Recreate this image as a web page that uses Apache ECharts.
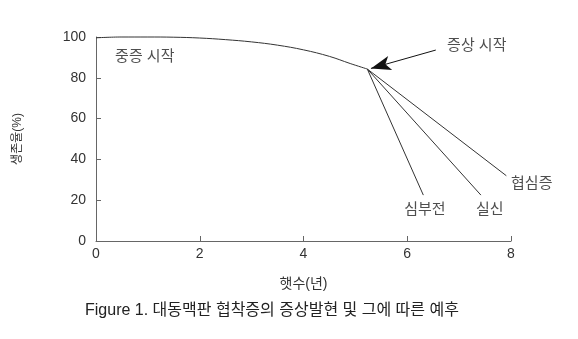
<!DOCTYPE html>
<html><head><meta charset="utf-8">
<script src="https://cdn.jsdelivr.net/npm/echarts@6/dist/echarts.min.js"></script>
<style>html,body{margin:0;padding:0;background:#fff}#c{width:578px;height:339px}</style>
</head><body><div id="c"></div>
<script>
// survival curve before symptom onset (years, survival %)
const curveX = [0, 0.5, 1, 1.5, 2, 2.5, 3, 3.5, 4, 4.5, 4.9, 5.23];
const curveY = [99.6, 100, 100, 99.9, 99.5, 98.7, 97.6, 96, 93.7, 90.5, 87, 84.3];
// branches after symptom onset
const branchNames = ['심부전', '실신', '협심증'];
const branchEndX = [6.31, 7.42, 7.91];
const branchEndY = [22.5, 22.5, 32];
const onset = [5.23, 84.3];
// annotation texts and anchors (data coordinates)
const noteTexts = ['중증 시작', '증상 시작', '심부전', '실신', '협심증'];
const noteX = [0.94, 7.34, 6.34, 7.59, 8.4];
const noteY = [90.2, 95.6, 15.2, 15.2, 27.9];
const arrowFrom = [6.55, 93.6];
const arrowTo = [5.3, 84.6];
const xTicks = [0, 2, 4, 6, 8];
const yTicks = [0, 20, 40, 60, 80, 100];
const caption = 'Figure 1. 대동맥판 협착증의 증상발현 및 그에 따른 예후';

const FONT = '"Liberation Sans", "Noto Sans CJK KR", sans-serif';
const chart = echarts.init(document.getElementById('c'));
const series = [{
  type: 'line', smooth: 0.4, symbol: 'none', clip: false,
  data: curveX.map((x, i) => [x, curveY[i]]),
  lineStyle: {color: '#333', width: 1}
}];
branchNames.forEach((n, i) => series.push({
  type: 'line', symbol: 'none', clip: false, name: n,
  data: [onset, [branchEndX[i], branchEndY[i]]],
  lineStyle: {color: '#333', width: 1}
}));
series.push({
  type: 'scatter', symbolSize: 0, clip: false,
  data: noteTexts.map((t, i) => ({value: [noteX[i], noteY[i]], name: t})),
  label: {show: true, position: 'inside', formatter: p => p.name, color: '#222', fontSize: 15, fontFamily: FONT},
  markLine: {
    silent: true, symbol: ['none', 'arrow'], symbolSize: [11, 20],
    lineStyle: {color: '#111', width: 1, type: 'solid'},
    label: {show: false},
    data: [[{coord: arrowFrom}, {coord: arrowTo}]]
  }
});
chart.setOption({
  animation: false,
  grid: {left: 96, right: 67, top: 37, bottom: 98},
  xAxis: {
    type: 'value', min: 0, max: 8, interval: 2,
    name: '햇수(년)', nameLocation: 'middle', nameGap: 36,
    nameTextStyle: {color: '#333', fontSize: 14, fontFamily: FONT},
    axisLine: {lineStyle: {color: '#666', width: 1}},
    axisTick: {show: true, inside: true, length: 5, lineStyle: {color: '#666'}},
    axisLabel: {color: '#333', fontSize: 14, margin: 6, fontFamily: FONT,
      formatter: v => xTicks.includes(v) ? String(v) : ''},
    splitLine: {show: false}
  },
  yAxis: {
    type: 'value', min: 0, max: 100, interval: 20,
    name: '생존율(%)', nameLocation: 'middle', nameGap: 72,
    nameTextStyle: {color: '#333', fontSize: 12, fontFamily: FONT},
    axisLine: {show: true, lineStyle: {color: '#666', width: 1}},
    axisTick: {show: true, inside: true, length: 5, lineStyle: {color: '#666'}},
    axisLabel: {color: '#333', fontSize: 14, margin: 10, fontFamily: FONT,
      formatter: v => yTicks.includes(v) ? String(v) : ''},
    splitLine: {show: false}
  },
  graphic: [{
    type: 'text', left: 85, top: 303,
    style: {text: caption, fill: '#222', font: '16px ' + FONT}
  }],
  series: series
});
</script></body></html>
